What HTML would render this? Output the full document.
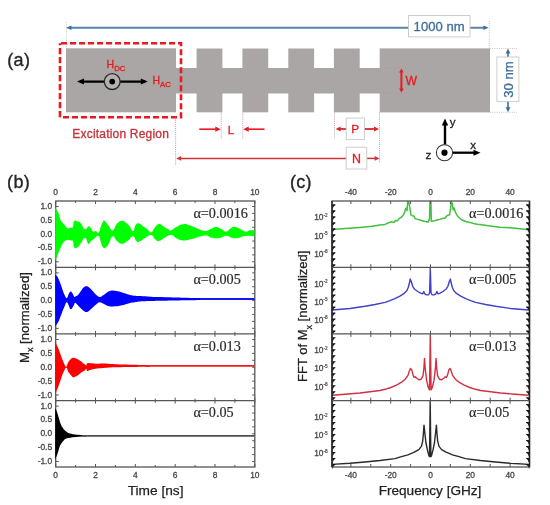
<!DOCTYPE html>
<html><head><meta charset="utf-8"><title>figure</title>
<style>html,body{margin:0;padding:0;background:#fff;width:550px;height:505px;overflow:hidden}svg{display:block}</style>
</head><body>
<svg width="550" height="505" viewBox="0 0 550 505">
<rect width="550" height="505" fill="#fff"/>
<text x="7.3" y="65.6" font-family="'Liberation Sans', Arial, sans-serif" font-size="18" letter-spacing="0.3" fill="#262626" stroke="#262626" stroke-width="0.35">(a)</text>
<g stroke="#b8b8b8" stroke-width="0.8" stroke-dasharray="1,1.2">
<line x1="66.5" y1="22" x2="66.5" y2="48"/>
<line x1="489.3" y1="21" x2="489.3" y2="48"/>
<line x1="490" y1="48.5" x2="517" y2="48.5"/>
<line x1="490" y1="112.3" x2="517" y2="112.3"/>
</g>
<g fill="#aaa6a5">
<rect x="66" y="48.3" width="110" height="64"/>
<rect x="176" y="68" width="204" height="25.5"/>
<rect x="196.6" y="48.5" width="25.8" height="63.8"/>
<rect x="242.4" y="48.5" width="25.8" height="63.8"/>
<rect x="288.3" y="48.5" width="25.8" height="63.8"/>
<rect x="333.9" y="48.5" width="25.8" height="63.8"/>
<rect x="379.7" y="48.4" width="110.3" height="64"/>
</g>
<rect x="60" y="43.2" width="121" height="74" fill="none" stroke="#e8191f" stroke-width="2.6" stroke-dasharray="6.1,2.9" stroke-dashoffset="-1"/>
<line x1="69" y1="27.8" x2="486" y2="27.8" stroke="#5a84ae" stroke-width="1.9"/>
<path d="M66.2,27.8 L71.4,25.6 L71.4,30 Z" fill="#3f6e9c"/>
<path d="M488.6,27.8 L483.4,25.6 L483.4,30 Z" fill="#3f6e9c"/>
<rect x="408.5" y="15.5" width="61.5" height="21.4" fill="#fff" stroke="#c8c8c8" stroke-width="0.9"/>
<text x="439.1" y="31" text-anchor="middle" font-family="'Liberation Sans', Arial, sans-serif" font-size="13.1" fill="#3f6e9c" stroke="#3f6e9c" stroke-width="0.3">1000 nm</text>
<line x1="508" y1="51" x2="508" y2="110" stroke="#3f6e9c" stroke-width="1.6"/>
<path d="M508,48.6 L505.6,53.5 L510.4,53.5 Z" fill="#3f6e9c"/>
<path d="M508,112.2 L505.6,107.3 L510.4,107.3 Z" fill="#3f6e9c"/>
<rect x="496.9" y="57" width="22" height="44.6" fill="#fff" stroke="#c8c8c8" stroke-width="0.9"/>
<text transform="translate(512.9,79.5) rotate(-90)" text-anchor="middle" font-family="'Liberation Sans', Arial, sans-serif" font-size="13.1" fill="#3f6e9c" stroke="#3f6e9c" stroke-width="0.3">30 nm</text>
<line x1="80" y1="81.6" x2="145" y2="81.6" stroke="#000" stroke-width="2.2"/>
<path d="M77,81.6 L84,78.6 L84,84.6 Z" fill="#000"/>
<path d="M147.8,81.6 L140.8,78.6 L140.8,84.6 Z" fill="#000"/>
<circle cx="112.2" cy="81.6" r="7.9" fill="#b5b1b0" stroke="#2a2a2a" stroke-width="1.3"/>
<circle cx="112.2" cy="81.6" r="2.9" fill="#000"/>
<text x="106.6" y="67.7" font-family="'Liberation Sans', Arial, sans-serif" font-size="10.5" fill="#e8191f" stroke="#e8191f" stroke-width="0.3">H<tspan font-size="7.8" dy="3">DC</tspan></text>
<text x="152.5" y="84.3" font-family="'Liberation Sans', Arial, sans-serif" font-size="10.5" fill="#e8191f" stroke="#e8191f" stroke-width="0.3">H<tspan font-size="7.8" dy="3">AC</tspan></text>
<text x="72.3" y="137.9" font-family="'Liberation Sans', Arial, sans-serif" font-size="12" letter-spacing="0.2" fill="#c5333a" stroke="#c5333a" stroke-width="0.3">Excitation Region</text>
<g stroke="#b8949a" stroke-width="0.9" stroke-dasharray="1,1.1">
<line x1="221.2" y1="112.5" x2="221.2" y2="139"/>
<line x1="242.8" y1="112.5" x2="242.8" y2="139"/>
<line x1="334.4" y1="112.5" x2="334.4" y2="138.5"/>
<line x1="379.5" y1="112.5" x2="379.5" y2="162"/>
<line x1="175.6" y1="117.5" x2="175.6" y2="165"/>
<line x1="380" y1="68.2" x2="408" y2="68.2"/>
<line x1="380" y1="93" x2="408" y2="93"/>
</g>
<line x1="199.3" y1="129.2" x2="216.4" y2="129.2" stroke="#e8191f" stroke-width="1.6"/>
<path d="M220.8,129.2 L215.3,126.6 L215.3,131.8 Z" fill="#e8191f"/>
<line x1="264.5" y1="129.2" x2="247.6" y2="129.2" stroke="#e8191f" stroke-width="1.6"/>
<path d="M243.2,129.2 L248.7,126.6 L248.7,131.8 Z" fill="#e8191f"/>
<text x="227.8" y="133.5" font-family="'Liberation Sans', Arial, sans-serif" font-size="11.5" fill="#e8191f" stroke="#e8191f" stroke-width="0.3">L</text>
<line x1="346.2" y1="129" x2="339.6" y2="129" stroke="#d6282e" stroke-width="1.8"/>
<path d="M335.6,129 L340.6,126.6 L340.6,131.4 Z" fill="#d6282e"/>
<line x1="364.4" y1="129" x2="375" y2="129" stroke="#d6282e" stroke-width="1.8"/>
<path d="M379,129 L374,126.6 L374,131.4 Z" fill="#d6282e"/>
<rect x="346.2" y="118.1" width="18.2" height="21.5" fill="#fff" stroke="#c8c8c8" stroke-width="0.9"/>
<text x="355.3" y="133.4" text-anchor="middle" font-family="'Liberation Sans', Arial, sans-serif" font-size="11.8" fill="#e8191f" stroke="#e8191f" stroke-width="0.3">P</text>
<line x1="346.2" y1="158.4" x2="180.2" y2="158.4" stroke="#d0343a" stroke-width="1.5"/>
<path d="M176.2,158.4 L181.2,156 L181.2,160.8 Z" fill="#d0343a"/>
<line x1="366.8" y1="158.4" x2="375.6" y2="158.4" stroke="#d0343a" stroke-width="1.5"/>
<path d="M379.6,158.4 L374.6,156 L374.6,160.8 Z" fill="#d0343a"/>
<rect x="346.2" y="147.2" width="20.6" height="21.8" fill="#fff" stroke="#c8c8c8" stroke-width="0.9"/>
<text x="356.5" y="162.8" text-anchor="middle" font-family="'Liberation Sans', Arial, sans-serif" font-size="12.4" fill="#e8191f" stroke="#e8191f" stroke-width="0.3">N</text>
<line x1="401.4" y1="71" x2="401.4" y2="90" stroke="#e8191f" stroke-width="2"/>
<path d="M401.4,68.6 L399.1,72.6 L403.7,72.6 Z" fill="#e8191f"/>
<path d="M401.4,92.6 L399.1,88.6 L403.7,88.6 Z" fill="#e8191f"/>
<text x="405.4" y="85" font-family="'Liberation Sans', Arial, sans-serif" font-size="12.2" fill="#e8191f" stroke="#e8191f" stroke-width="0.3">W</text>
<line x1="445" y1="144.5" x2="445" y2="124" stroke="#000" stroke-width="2.4"/>
<path d="M445,118.6 L441.8,125.5 L448.2,125.5 Z" fill="#000"/>
<line x1="452.5" y1="152.7" x2="474" y2="152.7" stroke="#000" stroke-width="2.3"/>
<path d="M480.5,152.7 L473.5,149.7 L473.5,155.7 Z" fill="#000"/>
<circle cx="444.5" cy="152.7" r="8.1" fill="#fff" stroke="#3a3a3a" stroke-width="1.1"/>
<circle cx="444.5" cy="152.7" r="3.1" fill="#000"/>
<text x="449.8" y="126.4" font-family="'Liberation Sans', Arial, sans-serif" font-size="11.6" fill="#222" stroke="#222" stroke-width="0.3">y</text>
<text x="470.2" y="148.6" font-family="'Liberation Sans', Arial, sans-serif" font-size="11.6" fill="#222" stroke="#222" stroke-width="0.3">x</text>
<text x="425.6" y="159.2" font-family="'Liberation Sans', Arial, sans-serif" font-size="11.6" fill="#222" stroke="#222" stroke-width="0.3">z</text>
<text x="7" y="188" font-family="'Liberation Sans', Arial, sans-serif" font-size="18" letter-spacing="0.4" fill="#262626" stroke="#262626" stroke-width="0.35">(b)</text>
<text x="289.9" y="188.4" font-family="'Liberation Sans', Arial, sans-serif" font-size="18" letter-spacing="0.3" fill="#262626" stroke="#262626" stroke-width="0.35">(c)</text>
<path d="M254.8,261.78 h-2.6 M254.8,254.87 h-2.6 M254.8,247.96 h-2.6 M254.8,241.06 h-2.6 M254.8,234.15 h-2.6 M254.8,227.24 h-2.6 M254.8,220.34 h-2.6 M254.8,213.43 h-2.6 M254.8,206.53 h-2.6 M55.7,261.78 h3 M55.7,247.96 h3 M55.7,234.15 h3 M55.7,220.34 h3 M55.7,206.53 h3 M254.8,328.35 h-2.6 M254.8,321.41 h-2.6 M254.8,314.48 h-2.6 M254.8,307.54 h-2.6 M254.8,300.6 h-2.6 M254.8,293.66 h-2.6 M254.8,286.73 h-2.6 M254.8,279.79 h-2.6 M254.8,272.85 h-2.6 M55.7,328.35 h3 M55.7,314.48 h3 M55.7,300.6 h3 M55.7,286.73 h3 M55.7,272.85 h3 M254.8,395.04 h-2.6 M254.8,388.09 h-2.6 M254.8,381.15 h-2.6 M254.8,374.2 h-2.6 M254.8,367.25 h-2.6 M254.8,360.3 h-2.6 M254.8,353.35 h-2.6 M254.8,346.41 h-2.6 M254.8,339.46 h-2.6 M55.7,395.04 h3 M55.7,381.15 h3 M55.7,367.25 h3 M55.7,353.35 h3 M55.7,339.46 h3 M254.8,461.47 h-2.6 M254.8,454.55 h-2.6 M254.8,447.63 h-2.6 M254.8,440.72 h-2.6 M254.8,433.8 h-2.6 M254.8,426.88 h-2.6 M254.8,419.97 h-2.6 M254.8,413.05 h-2.6 M254.8,406.13 h-2.6 M55.7,461.47 h3 M55.7,447.63 h3 M55.7,433.8 h3 M55.7,419.97 h3 M55.7,406.13 h3 M55.7,201 v3 M75.61,201 v2 M95.52,201 v3 M115.43,201 v2 M135.34,201 v3 M155.25,201 v2 M175.16,201 v3 M195.07,201 v2 M214.98,201 v3 M234.89,201 v2 M254.8,201 v3 M55.7,267.3 v3 M55.7,267.3 v-3 M75.61,267.3 v2 M75.61,267.3 v-2 M95.52,267.3 v3 M95.52,267.3 v-3 M115.43,267.3 v2 M115.43,267.3 v-2 M135.34,267.3 v3 M135.34,267.3 v-3 M155.25,267.3 v2 M155.25,267.3 v-2 M175.16,267.3 v3 M175.16,267.3 v-3 M195.07,267.3 v2 M195.07,267.3 v-2 M214.98,267.3 v3 M214.98,267.3 v-3 M234.89,267.3 v2 M234.89,267.3 v-2 M254.8,267.3 v3 M254.8,267.3 v-3 M55.7,333.9 v3 M55.7,333.9 v-3 M75.61,333.9 v2 M75.61,333.9 v-2 M95.52,333.9 v3 M95.52,333.9 v-3 M115.43,333.9 v2 M115.43,333.9 v-2 M135.34,333.9 v3 M135.34,333.9 v-3 M155.25,333.9 v2 M155.25,333.9 v-2 M175.16,333.9 v3 M175.16,333.9 v-3 M195.07,333.9 v2 M195.07,333.9 v-2 M214.98,333.9 v3 M214.98,333.9 v-3 M234.89,333.9 v2 M234.89,333.9 v-2 M254.8,333.9 v3 M254.8,333.9 v-3 M55.7,400.6 v3 M55.7,400.6 v-3 M75.61,400.6 v2 M75.61,400.6 v-2 M95.52,400.6 v3 M95.52,400.6 v-3 M115.43,400.6 v2 M115.43,400.6 v-2 M135.34,400.6 v3 M135.34,400.6 v-3 M155.25,400.6 v2 M155.25,400.6 v-2 M175.16,400.6 v3 M175.16,400.6 v-3 M195.07,400.6 v2 M195.07,400.6 v-2 M214.98,400.6 v3 M214.98,400.6 v-3 M234.89,400.6 v2 M234.89,400.6 v-2 M254.8,400.6 v3 M254.8,400.6 v-3 M55.7,467 v-3 M75.61,467 v-2 M95.52,467 v-3 M115.43,467 v-2 M135.34,467 v-3 M155.25,467 v-2 M175.16,467 v-3 M195.07,467 v-2 M214.98,467 v-3 M234.89,467 v-2 M254.8,467 v-3" stroke="#555555" stroke-width="1" fill="none"/>
<rect x="55.7" y="201.0" width="199.1" height="266" fill="none" stroke="#555555" stroke-width="1.3"/>
<line x1="55.7" y1="267.3" x2="254.8" y2="267.3" stroke="#555555" stroke-width="1.3"/>
<line x1="55.7" y1="333.9" x2="254.8" y2="333.9" stroke="#555555" stroke-width="1.3"/>
<line x1="55.7" y1="400.6" x2="254.8" y2="400.6" stroke="#555555" stroke-width="1.3"/>
<path d="M55.2,207.7 C56.13,209.25 57.23,210.17 58.7,213.5 C60.17,216.83 59.26,217.32 60.7,220.2 C62.14,223.08 62.29,222.14 64.1,224.3 C65.91,226.46 65.87,227.42 67.5,228.3 C69.13,229.18 68.76,227.95 70.2,227.6 C71.64,227.25 71.83,228.79 72.9,227 C73.97,225.21 72.95,222.34 74.2,220.9 C75.45,219.46 75.79,220.88 77.6,221.6 C79.41,222.32 79.4,221.81 81,223.6 C82.6,225.39 82.19,226.86 83.6,228.3 C85.01,229.74 85.02,229.53 86.3,229 C87.58,228.47 87.12,226.49 88.4,226.3 C89.68,226.11 89.85,226.86 91.1,228.3 C92.35,229.74 91.85,230.98 93.1,231.7 C94.35,232.42 94.36,230.65 95.8,231 C97.24,231.35 97.25,233.91 98.5,233 C99.75,232.09 99.38,230.48 100.5,227.6 C101.62,224.72 101.58,223.99 102.7,222.2 C103.82,220.41 103.45,220.37 104.7,220.9 C105.95,221.43 106.15,222.6 107.4,224.2 C108.65,225.8 107.96,225.27 109.4,226.9 C110.84,228.53 111.01,230.83 112.8,230.3 C114.59,229.77 114.31,227.25 116.1,224.9 C117.89,222.55 117.69,222.57 119.5,221.5 C121.31,220.43 121.11,220.53 122.9,220.9 C124.69,221.27 124.41,221.49 126.2,222.9 C127.99,224.31 127.79,224.07 129.6,226.2 C131.41,228.33 131.37,231.25 133,230.9 C134.63,230.55 134.1,226.87 135.7,224.9 C137.3,222.93 137.05,223.15 139,223.5 C140.95,223.85 140.84,224.76 143,226.2 C145.16,227.64 144.94,227.27 147.1,228.9 C149.26,230.53 148.94,232.83 151.1,232.3 C153.26,231.77 153.07,229.09 155.2,226.9 C157.33,224.71 156.99,224.29 159.1,224.1 C161.21,223.91 160.59,224.73 163.1,226.2 C165.61,227.67 166.37,228.51 168.5,229.6 C170.63,230.69 168.97,231.02 171.1,230.3 C173.23,229.58 173.25,228.53 176.5,226.9 C179.75,225.27 179.7,224.55 183.3,224.2 C186.9,223.85 186.43,224.51 190,225.6 C193.57,226.69 192.75,226.89 196.7,228.3 C200.65,229.71 201.04,230.74 204.8,230.9 C208.56,231.06 207.79,229.97 210.8,228.9 C213.81,227.83 213.25,226.9 216.1,226.9 C218.95,226.9 218.81,227.65 221.5,228.9 C224.19,230.15 223.69,231.76 226.2,231.6 C228.71,231.44 228.55,229.55 230.9,228.3 C233.25,227.05 232.47,226.74 235,226.9 C237.53,227.06 237.55,227.65 240.4,228.9 C243.25,230.15 243.19,231.23 245.7,231.6 C248.21,231.97 247.45,230.65 249.8,230.3 C252.15,229.95 253.25,230.3 254.5,230.3 L254.5,236.5 C252.15,236.37 250.9,235.52 245.7,236 C240.5,236.48 240.2,238.35 235,238.3 C229.8,238.25 229.8,236.01 226.2,235.8 C222.6,235.59 224.19,236.83 221.5,237.5 C218.81,238.17 218.95,238.3 216.1,238.3 C213.25,238.3 213.81,238.22 210.8,237.5 C207.79,236.78 209.81,235.2 204.8,235.6 C199.79,236 197.73,237.72 192,239 C186.27,240.28 187.3,240.53 183.3,240.4 C179.3,240.27 180.25,239.94 177,238.5 C173.75,237.06 174.3,235.27 171.1,235 C167.9,234.73 168.23,235.9 165,237.5 C161.77,239.1 161.67,240.6 159,241 C156.33,241.4 157.11,240.6 155,239 C152.89,237.4 153.77,235.27 151.1,235 C148.43,234.73 148.23,236.21 145,238 C141.77,239.79 141.4,241.03 139,241.7 C136.6,242.37 137.6,241.94 136,240.5 C134.4,239.06 135.13,236.3 133,236.3 C130.87,236.3 130.88,238.53 128,240.5 C125.12,242.47 125.13,243.57 122.2,243.7 C119.27,243.83 119.51,242.97 117,241 C114.49,239.03 114.93,235.77 112.8,236.3 C110.67,236.83 110.97,239.93 109,243 C107.03,246.07 107.13,246.87 105.4,247.8 C103.67,248.73 103.81,248.31 102.5,246.5 C101.19,244.69 101.57,243.8 100.5,241 C99.43,238.2 100.13,236.69 98.5,236 C96.87,235.31 96.4,237.07 94.4,238.4 C92.4,239.73 92.6,239.56 91,241 C89.4,242.44 90,244.68 88.4,243.8 C86.8,242.92 86.97,237.91 85,237.7 C83.03,237.49 82.97,240.47 81,243 C79.03,245.53 79.41,246.08 77.6,247.2 C75.79,248.32 75.45,248.85 74.2,247.2 C72.95,245.55 73.89,242.79 72.9,241 C71.91,239.21 71.94,240.82 70.5,240.5 C69.06,240.18 69.21,239.45 67.5,239.8 C65.79,240.15 65.91,239.83 64.1,241.8 C62.29,243.77 62.14,244.32 60.7,247.2 C59.26,250.08 60.17,249.03 58.7,252.6 C57.23,256.17 56.13,258.47 55.2,260.6 Z" fill="#00ff00"/>
<path d="M55.2,274.8 C55.76,275.25 56.26,275.06 57.3,276.5 C58.34,277.94 58.14,278.01 59.1,280.2 C60.06,282.39 59.94,282.03 60.9,284.7 C61.86,287.37 61.74,287.53 62.7,290.2 C63.66,292.87 63.51,292.62 64.5,294.7 C65.49,296.78 65.65,297.25 66.4,298 C67.15,298.75 66.74,298.46 67.3,297.5 C67.86,296.54 67.78,295.87 68.5,294.4 C69.22,292.93 69.2,292.64 70,292 C70.8,291.36 70.67,291.36 71.5,292 C72.33,292.64 72.3,293.09 73.1,294.4 C73.9,295.71 73.78,296.42 74.5,296.9 C75.22,297.38 74.81,296.79 75.8,296.2 C76.79,295.61 76.84,296.06 78.2,294.7 C79.56,293.34 79.46,293.02 80.9,291.1 C82.34,289.18 82.13,288.81 83.6,287.5 C85.07,286.19 84.93,286.2 86.4,286.2 C87.87,286.2 87.42,286.19 89.1,287.5 C90.78,288.81 90.75,289.07 92.7,291.1 C94.65,293.13 94.45,293.55 96.4,295.1 C98.35,296.65 98.32,296.77 100,296.9 C101.68,297.03 100.99,296.67 102.7,295.6 C104.41,294.53 104.45,294.1 106.4,292.9 C108.35,291.7 108.08,291.69 110,291.1 C111.92,290.51 111.17,290.59 113.6,290.7 C116.03,290.81 116.19,290.81 119.1,291.5 C122.01,292.19 121.59,292.37 124.5,293.3 C127.41,294.23 127.2,294.33 130,295 C132.8,295.67 132.33,295.51 135,295.8 C137.67,296.09 136,295.86 140,296.1 C144,296.34 144.67,296.43 150,296.7 C155.33,296.97 153.33,296.86 160,297.1 C166.67,297.34 167,297.39 175,297.6 C183,297.81 182,297.77 190,297.9 C198,298.03 201,298.05 205,298.1 L205,300.1 C201,300.15 198,300.19 190,300.3 C182,300.41 183,300.37 175,300.5 C167,300.63 166.67,300.64 160,300.8 C153.33,300.96 155.33,300.91 150,301.1 C144.67,301.29 144,301.21 140,301.5 C136,301.79 137.67,301.8 135,302.2 C132.33,302.6 133.76,302.09 130,303 C126.24,303.91 125.27,304.67 120.9,305.6 C116.53,306.53 116.99,306.39 113.6,306.5 C110.21,306.61 110.87,306.72 108.2,306 C105.53,305.28 105.79,304.76 103.6,303.8 C101.41,302.84 101.68,302.48 100,302.4 C98.32,302.32 99.25,302.14 97.3,303.5 C95.35,304.86 94.89,305.58 92.7,307.5 C90.51,309.42 90.78,309.5 89.1,310.7 C87.42,311.9 87.87,312 86.4,312 C84.93,312 85.31,311.9 83.6,310.7 C81.89,309.5 81.79,309.23 80,307.5 C78.21,305.77 78.21,305.43 76.9,304.2 C75.59,302.97 76.11,302.29 75.1,302.9 C74.09,303.51 74.06,304.9 73.1,306.5 C72.14,308.1 72.33,308.39 71.5,308.9 C70.67,309.41 70.88,309.65 70,308.4 C69.12,307.15 69.16,305.8 68.2,304.2 C67.24,302.6 67.39,301.79 66.4,302.4 C65.41,303.01 65.73,303.59 64.5,306.5 C63.27,309.41 63.24,309.65 61.8,313.3 C60.36,316.95 60.3,317.48 59.1,320.2 C57.9,322.92 58.34,321.79 57.3,323.5 C56.26,325.21 55.76,325.77 55.2,326.6 Z" fill="#0000ff"/>
<path d="M55.2,341.8 C55.87,343.21 56.39,344.06 57.7,347.1 C59.01,350.14 58.79,349.76 60.1,353.2 C61.41,356.64 61.27,356.72 62.6,360 C63.93,363.28 64.11,363.71 65.1,365.5 C66.09,367.29 65.5,367.53 66.3,366.7 C67.1,365.87 67.11,364.19 68.1,362.4 C69.09,360.61 68.85,361.15 70,360 C71.15,358.85 71.09,358.66 72.4,358.1 C73.71,357.54 73.59,357.63 74.9,357.9 C76.21,358.17 75.99,358.38 77.3,359.1 C78.61,359.82 78.47,359.72 79.8,360.6 C81.13,361.48 80.99,361.41 82.3,362.4 C83.61,363.39 83.61,363.5 84.7,364.3 C85.79,365.1 85.73,365.67 86.4,365.4 C87.07,365.13 86,363.86 87.2,363.3 C88.4,362.74 88.29,363.17 90.9,363.3 C93.51,363.43 93.56,363.72 97,363.8 C100.44,363.88 99,363.47 103.8,363.6 C108.6,363.73 108.01,364.01 115,364.3 C121.99,364.59 120.67,364.53 130,364.7 C139.33,364.87 144.67,364.88 150,364.95 L150,366.65 C144.67,366.72 139.33,366.73 130,366.9 C120.67,367.07 121.99,367.01 115,367.3 C108.01,367.59 108.6,367.65 103.8,368 C99,368.35 100.44,368.12 97,368.6 C93.56,369.08 93.51,369.16 90.9,369.8 C88.29,370.44 88.4,371.27 87.2,371 C86,370.73 87.07,368.96 86.4,368.8 C85.73,368.64 85.98,369.49 84.7,370.4 C83.42,371.31 83.23,371.05 81.6,372.2 C79.97,373.35 80.23,373.55 78.6,374.7 C76.97,375.85 76.99,375.83 75.5,376.5 C74.01,377.17 74.47,377.84 73,377.2 C71.53,376.56 71.31,375.59 70,374.1 C68.69,372.61 69.09,373.31 68.1,371.6 C67.11,369.89 67.45,367.7 66.3,367.7 C65.15,367.7 65.11,368.91 63.8,371.6 C62.49,374.29 62.71,374.2 61.4,377.8 C60.09,381.4 60.55,380.78 58.9,385.1 C57.25,389.42 56.19,391.63 55.2,394 Z" fill="#ff0000"/>
<path d="M55.2,407.9 C55.71,409.05 56.11,409.43 57.1,412.2 C58.09,414.97 57.94,415.18 58.9,418.3 C59.86,421.42 59.71,421.45 60.7,423.9 C61.69,426.35 61.45,425.71 62.6,427.5 C63.75,429.29 63.69,429.29 65,430.6 C66.31,431.91 65.85,431.55 67.5,432.4 C69.15,433.25 69.23,433.24 71.2,433.8 C73.17,434.36 72.55,434.21 74.9,434.5 C77.25,434.79 77.04,434.77 80,434.9 C82.96,435.03 84.4,434.97 86,435 L86,436.6 C84.4,436.63 82.96,436.57 80,436.7 C77.04,436.83 77.57,436.81 74.9,437.1 C72.23,437.39 72.29,437.4 70,437.8 C67.71,438.2 67.95,437.91 66.3,438.6 C64.65,439.29 65.11,439.09 63.8,440.4 C62.49,441.71 62.55,441.69 61.4,443.5 C60.25,445.31 60.49,444.59 59.5,447.2 C58.51,449.81 58.85,449.99 57.7,453.3 C56.55,456.61 55.87,457.92 55.2,459.6 Z" fill="#000000"/>
<line x1="200" y1="299.1" x2="254.5" y2="299.1" stroke="#1515f5" stroke-width="2"/>
<line x1="145" y1="365.8" x2="254.5" y2="365.8" stroke="#f01c1c" stroke-width="1.7"/>
<line x1="82" y1="435.8" x2="254.5" y2="435.8" stroke="#505050" stroke-width="1.7"/>
<g font-family="'Liberation Sans', Arial, sans-serif" font-size="8.4" fill="#484848" stroke="#484848" stroke-width="0.3"><text x="52.1" y="209.03" text-anchor="end">1.0</text><text x="52.1" y="222.84" text-anchor="end">0.5</text><text x="52.1" y="236.65" text-anchor="end">0.0</text><text x="52.1" y="250.46" text-anchor="end">-0.5</text><text x="52.1" y="264.28" text-anchor="end">-1.0</text><text x="52.1" y="275.35" text-anchor="end">1.0</text><text x="52.1" y="289.23" text-anchor="end">0.5</text><text x="52.1" y="303.1" text-anchor="end">0.0</text><text x="52.1" y="316.98" text-anchor="end">-0.5</text><text x="52.1" y="330.85" text-anchor="end">-1.0</text><text x="52.1" y="341.96" text-anchor="end">1.0</text><text x="52.1" y="355.85" text-anchor="end">0.5</text><text x="52.1" y="369.75" text-anchor="end">0.0</text><text x="52.1" y="383.65" text-anchor="end">-0.5</text><text x="52.1" y="397.54" text-anchor="end">-1.0</text><text x="52.1" y="408.63" text-anchor="end">1.0</text><text x="52.1" y="422.47" text-anchor="end">0.5</text><text x="52.1" y="436.3" text-anchor="end">0.0</text><text x="52.1" y="450.13" text-anchor="end">-0.5</text><text x="52.1" y="463.97" text-anchor="end">-1.0</text><text x="55.7" y="194.5" text-anchor="middle">0</text><text x="55.7" y="477.8" text-anchor="middle">0</text><text x="95.52" y="194.5" text-anchor="middle">2</text><text x="95.52" y="477.8" text-anchor="middle">2</text><text x="135.34" y="194.5" text-anchor="middle">4</text><text x="135.34" y="477.8" text-anchor="middle">4</text><text x="175.16" y="194.5" text-anchor="middle">6</text><text x="175.16" y="477.8" text-anchor="middle">6</text><text x="214.98" y="194.5" text-anchor="middle">8</text><text x="214.98" y="477.8" text-anchor="middle">8</text><text x="254.8" y="194.5" text-anchor="middle">10</text><text x="254.8" y="477.8" text-anchor="middle">10</text></g>
<text x="193.4" y="217.8" font-family="'Liberation Serif', 'Times New Roman', serif" font-size="14.2" fill="#2a2a2a" stroke="#2a2a2a" stroke-width="0.2">α=0.0016</text>
<text x="193.4" y="284.1" font-family="'Liberation Serif', 'Times New Roman', serif" font-size="14.2" fill="#2a2a2a" stroke="#2a2a2a" stroke-width="0.2">α=0.005</text>
<text x="193.4" y="350.7" font-family="'Liberation Serif', 'Times New Roman', serif" font-size="14.2" fill="#2a2a2a" stroke="#2a2a2a" stroke-width="0.2">α=0.013</text>
<text x="193.4" y="417.4" font-family="'Liberation Serif', 'Times New Roman', serif" font-size="14.2" fill="#2a2a2a" stroke="#2a2a2a" stroke-width="0.2">α=0.05</text>
<text x="155.6" y="494.8" text-anchor="middle" font-family="'Liberation Sans', Arial, sans-serif" font-size="13.7" fill="#222" stroke="#222" stroke-width="0.25">Time [ns]</text>
<text transform="translate(28.6,317.6) rotate(-90)" text-anchor="middle" font-family="'Liberation Sans', Arial, sans-serif" font-size="13.2" fill="#222" stroke="#222" stroke-width="0.25">M<tspan font-size="9" dy="4.4">x</tspan><tspan dy="-4.4"> [normalized]</tspan></text>
<path d="M332,229.6 L345,228.6 L360,227.4 L372,226.2 L380,225 L385,224.4 L388.6,222.7 L391.4,221.8 L394.1,222.4 L395.5,220.5 L397.3,220.7 L399.1,218.7 L401.4,217.1 L403.2,215.3 L404.5,212.5 L405.5,208.9 L406.4,208 L407,210.7 L407.7,201.8 L408.8,201.8 L410,208.9 L410.9,214.8 L412.3,215.7 L414.1,216.2 L415,218.5 L417.7,219.4 L421.4,220.5 L425,221.5 L428.2,222.1 L429.5,218.9 L430,201.5 L430.9,201.5 L431.3,221.2 L434.5,220.7 L439.1,219.6 L443.6,218.2 L445,218.2 L446.4,216.2 L448.2,215.1 L449.5,214.8 L450.5,208.9 L451.4,201.8 L452.3,203.5 L453.2,209.8 L454.1,208 L455.5,212.5 L457.3,215.7 L460,218.5 L462.7,220.3 L466.4,221.8 L470,222.4 L473.6,223.5 L477.3,224.2 L480,224.5 L490,226 L500,227.3 L510,227.8 L520,228.8 L529,229.8" fill="none" stroke="#40c040" stroke-width="1.5" stroke-linejoin="round"/>
<path d="M332,310 L350,308.5 L365,306.3 L375,304.5 L385,302.4 L390,300.6 L394.9,298.7 L399.9,296.2 L403.8,293.7 L406.8,290.7 L408.3,287.3 L409.6,282.3 L410.2,278.9 L411.2,281.3 L412.7,286.3 L414.7,289.3 L417.7,291.5 L420.6,293.2 L422.6,293.9 L423.8,291.5 L424.8,293.9 L426.6,294.9 L428.6,294.7 L429.6,292.7 L430.3,267.6 L431,292.7 L432,294.7 L434,294.9 L435.8,293.9 L436.8,291.5 L438,293.9 L440,293.2 L442.9,291.5 L445.9,289.3 L447.9,286.3 L449.4,281.3 L450.4,278.9 L451,282.3 L452.3,287.3 L453.8,290.7 L456.8,293.7 L460.7,296.2 L465.7,298.7 L470.6,300.6 L475.6,302.4 L485.6,304.5 L495.6,306.3 L510.6,308.5 L528.6,310" fill="none" stroke="#4040c8" stroke-width="1.4" stroke-linejoin="round"/>
<path d="M332,395.2 L345,394.3 L360,393 L372,391.5 L380,390.5 L385,389.3 L390.9,387.5 L396.9,384.9 L401.6,382.2 L405.2,379.2 L407.2,376.5 L408.2,374.8 L409.3,371.1 L410.5,368.5 L411.7,369.7 L412.9,374.4 L414.1,377.4 L415.3,376.8 L416.5,378 L418.8,379.8 L421.2,379.2 L423,375.6 L424,367.3 L424.5,358.4 L425.1,367.3 L426.6,380.4 L428.3,387.5 L429.5,389.9 L430.3,334.6 L431.1,389.9 L432.3,387.5 L434,380.4 L435.5,367.3 L436.1,358.4 L436.6,367.3 L437.6,375.6 L439.4,379.2 L441.8,379.8 L444.1,378 L445.3,376.8 L446.5,377.4 L447.7,374.4 L448.9,369.7 L450.1,368.5 L451.3,371.1 L452.4,374.8 L453.4,376.5 L455.4,379.2 L459,382.2 L463.7,384.9 L469.7,387.5 L475.6,389.3 L480.6,390.5 L488.6,391.5 L500.6,393 L515.6,394.3 L528.6,395.2" fill="none" stroke="#d03040" stroke-width="1.4" stroke-linejoin="round"/>
<path d="M332,464.4 L350,463.3 L365,462 L380,460.5 L395,458.6 L401.4,456.7 L407.9,454.8 L414.3,452.2 L418.8,449.6 L421.4,446.4 L422.7,441.2 L423.4,433.5 L424,425.1 L424.9,433.5 L425.9,442.5 L427.5,450.3 L428.8,455.4 L429.5,456.7 L430.2,401.3 L430.9,456.7 L431.6,455.4 L432.9,450.3 L434.5,442.5 L435.5,433.5 L436.4,425.1 L437,433.5 L437.7,441.2 L439,446.4 L441.6,449.6 L446.1,452.2 L452.5,454.8 L459,456.7 L465.4,458.6 L480.4,460.5 L495.4,462 L510.4,463.3 L528.4,464.4" fill="none" stroke="#2a2a2a" stroke-width="1.4" stroke-linejoin="round"/>
<path d="M350.9,201 v3 M370.8,201 v3 M390.7,201 v3 M410.6,201 v3 M430.5,201 v3 M450.4,201 v3 M470.3,201 v3 M490.2,201 v3 M510.1,201 v3 M350.9,267.3 v3 M350.9,267.3 v-3 M370.8,267.3 v3 M370.8,267.3 v-3 M390.7,267.3 v3 M390.7,267.3 v-3 M410.6,267.3 v3 M410.6,267.3 v-3 M430.5,267.3 v3 M430.5,267.3 v-3 M450.4,267.3 v3 M450.4,267.3 v-3 M470.3,267.3 v3 M470.3,267.3 v-3 M490.2,267.3 v3 M490.2,267.3 v-3 M510.1,267.3 v3 M510.1,267.3 v-3 M350.9,333.9 v3 M350.9,333.9 v-3 M370.8,333.9 v3 M370.8,333.9 v-3 M390.7,333.9 v3 M390.7,333.9 v-3 M410.6,333.9 v3 M410.6,333.9 v-3 M430.5,333.9 v3 M430.5,333.9 v-3 M450.4,333.9 v3 M450.4,333.9 v-3 M470.3,333.9 v3 M470.3,333.9 v-3 M490.2,333.9 v3 M490.2,333.9 v-3 M510.1,333.9 v3 M510.1,333.9 v-3 M350.9,400.6 v3 M350.9,400.6 v-3 M370.8,400.6 v3 M370.8,400.6 v-3 M390.7,400.6 v3 M390.7,400.6 v-3 M410.6,400.6 v3 M410.6,400.6 v-3 M430.5,400.6 v3 M430.5,400.6 v-3 M450.4,400.6 v3 M450.4,400.6 v-3 M470.3,400.6 v3 M470.3,400.6 v-3 M490.2,400.6 v3 M490.2,400.6 v-3 M510.1,400.6 v3 M510.1,400.6 v-3 M350.9,467 v-3 M370.8,467 v-3 M390.7,467 v-3 M410.6,467 v-3 M430.5,467 v-3 M450.4,467 v-3 M470.3,467 v-3 M490.2,467 v-3 M510.1,467 v-3" stroke="#555555" stroke-width="1" fill="none"/>
<path d="M332,204.3 h3.4 v0.9 L333.9,206.2 L332.5,208.8 L332,208.8 Z M529.5,204.3 h-3.4 v0.9 L527.6,206.2 L529,208.8 L529.5,208.8 Z M332,210.3 h3.4 v0.9 L333.9,212.2 L332.5,214.8 L332,214.8 Z M529.5,210.3 h-3.4 v0.9 L527.6,212.2 L529,214.8 L529.5,214.8 Z M332,216.3 h3.4 v0.9 L333.9,218.2 L332.5,220.8 L332,220.8 Z M529.5,216.3 h-3.4 v0.9 L527.6,218.2 L529,220.8 L529.5,220.8 Z M332,222.3 h3.4 v0.9 L333.9,224.2 L332.5,226.8 L332,226.8 Z M529.5,222.3 h-3.4 v0.9 L527.6,224.2 L529,226.8 L529.5,226.8 Z M332,228.3 h3.4 v0.9 L333.9,230.2 L332.5,232.8 L332,232.8 Z M529.5,228.3 h-3.4 v0.9 L527.6,230.2 L529,232.8 L529.5,232.8 Z M332,234.3 h3.4 v0.9 L333.9,236.2 L332.5,238.8 L332,238.8 Z M529.5,234.3 h-3.4 v0.9 L527.6,236.2 L529,238.8 L529.5,238.8 Z M332,240.3 h3.4 v0.9 L333.9,242.2 L332.5,244.8 L332,244.8 Z M529.5,240.3 h-3.4 v0.9 L527.6,242.2 L529,244.8 L529.5,244.8 Z M332,246.3 h3.4 v0.9 L333.9,248.2 L332.5,250.8 L332,250.8 Z M529.5,246.3 h-3.4 v0.9 L527.6,248.2 L529,250.8 L529.5,250.8 Z M332,252.3 h3.4 v0.9 L333.9,254.2 L332.5,256.8 L332,256.8 Z M529.5,252.3 h-3.4 v0.9 L527.6,254.2 L529,256.8 L529.5,256.8 Z M332,258.3 h3.4 v0.9 L333.9,260.2 L332.5,262.8 L332,262.8 Z M529.5,258.3 h-3.4 v0.9 L527.6,260.2 L529,262.8 L529.5,262.8 Z M332,264.3 h3.4 v0.9 L333.9,266.2 L332.5,268.8 L332,268.8 Z M529.5,264.3 h-3.4 v0.9 L527.6,266.2 L529,268.8 L529.5,268.8 Z M332,270.6 h3.4 v0.9 L333.9,272.5 L332.5,275.1 L332,275.1 Z M529.5,270.6 h-3.4 v0.9 L527.6,272.5 L529,275.1 L529.5,275.1 Z M332,276.6 h3.4 v0.9 L333.9,278.5 L332.5,281.1 L332,281.1 Z M529.5,276.6 h-3.4 v0.9 L527.6,278.5 L529,281.1 L529.5,281.1 Z M332,282.6 h3.4 v0.9 L333.9,284.5 L332.5,287.1 L332,287.1 Z M529.5,282.6 h-3.4 v0.9 L527.6,284.5 L529,287.1 L529.5,287.1 Z M332,288.6 h3.4 v0.9 L333.9,290.5 L332.5,293.1 L332,293.1 Z M529.5,288.6 h-3.4 v0.9 L527.6,290.5 L529,293.1 L529.5,293.1 Z M332,294.6 h3.4 v0.9 L333.9,296.5 L332.5,299.1 L332,299.1 Z M529.5,294.6 h-3.4 v0.9 L527.6,296.5 L529,299.1 L529.5,299.1 Z M332,300.6 h3.4 v0.9 L333.9,302.5 L332.5,305.1 L332,305.1 Z M529.5,300.6 h-3.4 v0.9 L527.6,302.5 L529,305.1 L529.5,305.1 Z M332,306.6 h3.4 v0.9 L333.9,308.5 L332.5,311.1 L332,311.1 Z M529.5,306.6 h-3.4 v0.9 L527.6,308.5 L529,311.1 L529.5,311.1 Z M332,312.6 h3.4 v0.9 L333.9,314.5 L332.5,317.1 L332,317.1 Z M529.5,312.6 h-3.4 v0.9 L527.6,314.5 L529,317.1 L529.5,317.1 Z M332,318.6 h3.4 v0.9 L333.9,320.5 L332.5,323.1 L332,323.1 Z M529.5,318.6 h-3.4 v0.9 L527.6,320.5 L529,323.1 L529.5,323.1 Z M332,324.6 h3.4 v0.9 L333.9,326.5 L332.5,329.1 L332,329.1 Z M529.5,324.6 h-3.4 v0.9 L527.6,326.5 L529,329.1 L529.5,329.1 Z M332,330.6 h3.4 v0.9 L333.9,332.5 L332.5,335.1 L332,335.1 Z M529.5,330.6 h-3.4 v0.9 L527.6,332.5 L529,335.1 L529.5,335.1 Z M332,337.2 h3.4 v0.9 L333.9,339.1 L332.5,341.7 L332,341.7 Z M529.5,337.2 h-3.4 v0.9 L527.6,339.1 L529,341.7 L529.5,341.7 Z M332,343.2 h3.4 v0.9 L333.9,345.1 L332.5,347.7 L332,347.7 Z M529.5,343.2 h-3.4 v0.9 L527.6,345.1 L529,347.7 L529.5,347.7 Z M332,349.2 h3.4 v0.9 L333.9,351.1 L332.5,353.7 L332,353.7 Z M529.5,349.2 h-3.4 v0.9 L527.6,351.1 L529,353.7 L529.5,353.7 Z M332,355.2 h3.4 v0.9 L333.9,357.1 L332.5,359.7 L332,359.7 Z M529.5,355.2 h-3.4 v0.9 L527.6,357.1 L529,359.7 L529.5,359.7 Z M332,361.2 h3.4 v0.9 L333.9,363.1 L332.5,365.7 L332,365.7 Z M529.5,361.2 h-3.4 v0.9 L527.6,363.1 L529,365.7 L529.5,365.7 Z M332,367.2 h3.4 v0.9 L333.9,369.1 L332.5,371.7 L332,371.7 Z M529.5,367.2 h-3.4 v0.9 L527.6,369.1 L529,371.7 L529.5,371.7 Z M332,373.2 h3.4 v0.9 L333.9,375.1 L332.5,377.7 L332,377.7 Z M529.5,373.2 h-3.4 v0.9 L527.6,375.1 L529,377.7 L529.5,377.7 Z M332,379.2 h3.4 v0.9 L333.9,381.1 L332.5,383.7 L332,383.7 Z M529.5,379.2 h-3.4 v0.9 L527.6,381.1 L529,383.7 L529.5,383.7 Z M332,385.2 h3.4 v0.9 L333.9,387.1 L332.5,389.7 L332,389.7 Z M529.5,385.2 h-3.4 v0.9 L527.6,387.1 L529,389.7 L529.5,389.7 Z M332,391.2 h3.4 v0.9 L333.9,393.1 L332.5,395.7 L332,395.7 Z M529.5,391.2 h-3.4 v0.9 L527.6,393.1 L529,395.7 L529.5,395.7 Z M332,397.2 h3.4 v0.9 L333.9,399.1 L332.5,401.7 L332,401.7 Z M529.5,397.2 h-3.4 v0.9 L527.6,399.1 L529,401.7 L529.5,401.7 Z M332,403.9 h3.4 v0.9 L333.9,405.8 L332.5,408.4 L332,408.4 Z M529.5,403.9 h-3.4 v0.9 L527.6,405.8 L529,408.4 L529.5,408.4 Z M332,409.9 h3.4 v0.9 L333.9,411.8 L332.5,414.4 L332,414.4 Z M529.5,409.9 h-3.4 v0.9 L527.6,411.8 L529,414.4 L529.5,414.4 Z M332,415.9 h3.4 v0.9 L333.9,417.8 L332.5,420.4 L332,420.4 Z M529.5,415.9 h-3.4 v0.9 L527.6,417.8 L529,420.4 L529.5,420.4 Z M332,421.9 h3.4 v0.9 L333.9,423.8 L332.5,426.4 L332,426.4 Z M529.5,421.9 h-3.4 v0.9 L527.6,423.8 L529,426.4 L529.5,426.4 Z M332,427.9 h3.4 v0.9 L333.9,429.8 L332.5,432.4 L332,432.4 Z M529.5,427.9 h-3.4 v0.9 L527.6,429.8 L529,432.4 L529.5,432.4 Z M332,433.9 h3.4 v0.9 L333.9,435.8 L332.5,438.4 L332,438.4 Z M529.5,433.9 h-3.4 v0.9 L527.6,435.8 L529,438.4 L529.5,438.4 Z M332,439.9 h3.4 v0.9 L333.9,441.8 L332.5,444.4 L332,444.4 Z M529.5,439.9 h-3.4 v0.9 L527.6,441.8 L529,444.4 L529.5,444.4 Z M332,445.9 h3.4 v0.9 L333.9,447.8 L332.5,450.4 L332,450.4 Z M529.5,445.9 h-3.4 v0.9 L527.6,447.8 L529,450.4 L529.5,450.4 Z M332,451.9 h3.4 v0.9 L333.9,453.8 L332.5,456.4 L332,456.4 Z M529.5,451.9 h-3.4 v0.9 L527.6,453.8 L529,456.4 L529.5,456.4 Z M332,457.9 h3.4 v0.9 L333.9,459.8 L332.5,462.4 L332,462.4 Z M529.5,457.9 h-3.4 v0.9 L527.6,459.8 L529,462.4 L529.5,462.4 Z M332,463.9 h3.4 v0.9 L333.9,465.8 L332.5,468.4 L332,468.4 Z M529.5,463.9 h-3.4 v0.9 L527.6,465.8 L529,468.4 L529.5,468.4 Z" fill="#111" stroke="none"/>
<rect x="332.0" y="201.0" width="197.5" height="266" fill="none" stroke="#555555" stroke-width="1.3"/>
<line x1="332.0" y1="201.0" x2="332.0" y2="467.0" stroke="#222" stroke-width="1.4"/>
<line x1="529.5" y1="201.0" x2="529.5" y2="467.0" stroke="#222" stroke-width="1.4"/>
<line x1="332.0" y1="267.3" x2="529.5" y2="267.3" stroke="#555555" stroke-width="1.3"/>
<line x1="332.0" y1="333.9" x2="529.5" y2="333.9" stroke="#555555" stroke-width="1.3"/>
<line x1="332.0" y1="400.6" x2="529.5" y2="400.6" stroke="#555555" stroke-width="1.3"/>
<g font-family="'Liberation Sans', Arial, sans-serif" font-size="8.4" fill="#484848" stroke="#484848" stroke-width="0.3"><text x="314.2" y="220.4">10<tspan font-size="4.7" dy="-3.5" stroke-width="0.2">-2</tspan></text><text x="314.2" y="238.5">10<tspan font-size="4.7" dy="-3.5" stroke-width="0.2">-5</tspan></text><text x="314.2" y="256.6">10<tspan font-size="4.7" dy="-3.5" stroke-width="0.2">-8</tspan></text><text x="314.2" y="286.7">10<tspan font-size="4.7" dy="-3.5" stroke-width="0.2">-2</tspan></text><text x="314.2" y="304.8">10<tspan font-size="4.7" dy="-3.5" stroke-width="0.2">-5</tspan></text><text x="314.2" y="322.9">10<tspan font-size="4.7" dy="-3.5" stroke-width="0.2">-8</tspan></text><text x="314.2" y="353.3">10<tspan font-size="4.7" dy="-3.5" stroke-width="0.2">-2</tspan></text><text x="314.2" y="371.4">10<tspan font-size="4.7" dy="-3.5" stroke-width="0.2">-5</tspan></text><text x="314.2" y="389.5">10<tspan font-size="4.7" dy="-3.5" stroke-width="0.2">-8</tspan></text><text x="314.2" y="420">10<tspan font-size="4.7" dy="-3.5" stroke-width="0.2">-2</tspan></text><text x="314.2" y="438.1">10<tspan font-size="4.7" dy="-3.5" stroke-width="0.2">-5</tspan></text><text x="314.2" y="456.2">10<tspan font-size="4.7" dy="-3.5" stroke-width="0.2">-8</tspan></text><text x="350.9" y="194.5" text-anchor="middle">-40</text><text x="350.9" y="477.8" text-anchor="middle">-40</text><text x="390.7" y="194.5" text-anchor="middle">-20</text><text x="390.7" y="477.8" text-anchor="middle">-20</text><text x="430.5" y="194.5" text-anchor="middle">0</text><text x="430.5" y="477.8" text-anchor="middle">0</text><text x="470.3" y="194.5" text-anchor="middle">20</text><text x="470.3" y="477.8" text-anchor="middle">20</text><text x="510.1" y="194.5" text-anchor="middle">40</text><text x="510.1" y="477.8" text-anchor="middle">40</text></g>
<text x="469.0" y="217.8" font-family="'Liberation Serif', 'Times New Roman', serif" font-size="14.2" fill="#2a2a2a" stroke="#2a2a2a" stroke-width="0.2">α=0.0016</text>
<text x="469.0" y="284.1" font-family="'Liberation Serif', 'Times New Roman', serif" font-size="14.2" fill="#2a2a2a" stroke="#2a2a2a" stroke-width="0.2">α=0.005</text>
<text x="469.0" y="350.7" font-family="'Liberation Serif', 'Times New Roman', serif" font-size="14.2" fill="#2a2a2a" stroke="#2a2a2a" stroke-width="0.2">α=0.013</text>
<text x="469.0" y="417.4" font-family="'Liberation Serif', 'Times New Roman', serif" font-size="14.2" fill="#2a2a2a" stroke="#2a2a2a" stroke-width="0.2">α=0.05</text>
<text x="430" y="495" text-anchor="middle" font-family="'Liberation Sans', Arial, sans-serif" font-size="13.6" fill="#222" stroke="#222" stroke-width="0.25">Frequency [GHz]</text>
<text transform="translate(307.2,316.3) rotate(-90)" text-anchor="middle" font-family="'Liberation Sans', Arial, sans-serif" font-size="13" fill="#222" stroke="#222" stroke-width="0.25">FFT of M<tspan font-size="9" dy="4.4">x</tspan><tspan dy="-4.4"> [normalized]</tspan></text>
</svg>
</body></html>
